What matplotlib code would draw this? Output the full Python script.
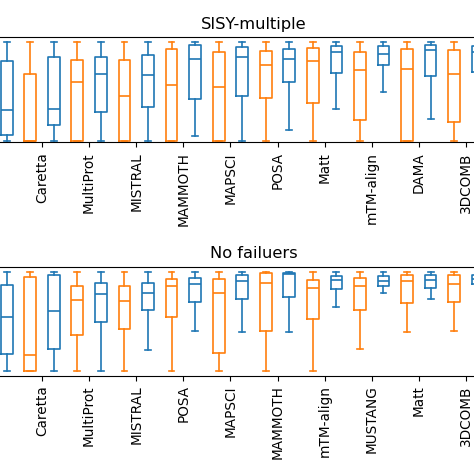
import matplotlib
matplotlib.use("Agg")
import matplotlib.pyplot as plt


# tick labels of each panel (positions 1..10, position 0 is cut off at the left edge)
top_methods = ["Caretta", "MultiProt", "MISTRAL", "MAMMOTH", "MAPSCI",
               "POSA", "Matt", "mTM-align", "DAMA", "3DCOMB"]
bottom_methods = ["Caretta", "MultiProt", "MISTRAL", "POSA", "MAPSCI",
                  "MAMMOTH", "mTM-align", "MUSTANG", "Matt", "3DCOMB"]

# box stats rows: [whisker low, q1, median, q3, whisker high]
# blue series: positions 0..10, orange series: positions 1..10
top_blue = [
  [0.00, 0.06, 0.31, 0.81, 1.00],
  [0.00, 0.16, 0.32, 0.85, 1.00],
  [0.00, 0.29, 0.68, 0.85, 1.00],
  [0.00, 0.35, 0.67, 0.87, 1.00],
  [0.05, 0.43, 0.83, 0.97, 1.00],
  [0.00, 0.46, 0.85, 0.95, 1.00],
  [0.11, 0.60, 0.83, 0.93, 1.00],
  [0.32, 0.69, 0.90, 0.96, 1.00],
  [0.50, 0.77, 0.88, 0.96, 1.00],
  [0.22, 0.66, 0.92, 0.97, 1.00],
  [0.40, 0.70, 0.90, 0.96, 1.00],
]
top_orange = [
  [0.00, 0.00, 0.00, 0.68, 1.00],
  [0.00, 0.00, 0.60, 0.82, 1.00],
  [0.00, 0.00, 0.46, 0.82, 1.00],
  [0.00, 0.00, 0.57, 0.93, 1.00],
  [0.00, 0.00, 0.55, 0.90, 1.00],
  [0.00, 0.44, 0.77, 0.91, 1.00],
  [0.00, 0.39, 0.81, 0.94, 1.00],
  [0.00, 0.21, 0.72, 0.90, 1.00],
  [0.00, 0.00, 0.73, 0.93, 1.00],
  [0.00, 0.19, 0.68, 0.92, 1.00],
]
bottom_blue = [
  [0.00, 0.17, 0.54, 0.87, 1.00],
  [0.00, 0.22, 0.60, 0.97, 1.00],
  [0.00, 0.49, 0.77, 0.89, 1.00],
  [0.21, 0.61, 0.78, 0.89, 1.00],
  [0.40, 0.69, 0.88, 0.94, 1.00],
  [0.39, 0.72, 0.91, 0.97, 1.00],
  [0.39, 0.74, 0.98, 0.99, 1.00],
  [0.64, 0.82, 0.92, 0.96, 1.00],
  [0.78, 0.85, 0.91, 0.96, 1.00],
  [0.72, 0.83, 0.92, 0.97, 1.00],
  [0.80, 0.88, 0.93, 0.97, 1.00],
]
bottom_orange = [
  [0.00, 0.00, 0.16, 0.95, 1.00],
  [0.00, 0.36, 0.71, 0.85, 1.00],
  [0.00, 0.42, 0.70, 0.85, 1.00],
  [0.00, 0.54, 0.85, 0.93, 1.00],
  [0.00, 0.18, 0.78, 0.93, 1.00],
  [0.00, 0.40, 0.89, 0.99, 1.00],
  [0.00, 0.52, 0.83, 0.92, 1.00],
  [0.22, 0.61, 0.85, 0.94, 1.00],
  [0.39, 0.68, 0.91, 0.97, 1.00],
  [0.40, 0.69, 0.88, 0.97, 1.00],
]

blue = "#1f77b4"
orange = "#ff7f0e"
offset = 0.25
box_w = 0.25


def to_stats(rows):
  return [{"whislo": r[0], "q1": r[1], "med": r[2], "q3": r[3], "whishi": r[4], "fliers": []}
          for r in rows]


def draw_series(ax, rows, positions, color):
  props = dict(color=color, linewidth=1.2)
  ax.bxp(to_stats(rows), positions=positions, widths=box_w, showfliers=False,
         boxprops=props, whiskerprops=props, capprops=props,
         medianprops=props, manage_ticks=False)


def plot_panel(ax, title, methods, blue_rows, orange_rows, ylim):
  draw_series(ax, orange_rows, [i + 1 - offset for i in range(len(orange_rows))], orange)
  draw_series(ax, blue_rows, [i + offset for i in range(len(blue_rows))], blue)
  ax.set_xticks(range(1, len(methods) + 1))
  ax.set_xticklabels(methods, rotation=90, fontsize=9.8)
  ax.set_xlim(-0.5, 11.5)
  ax.set_ylim(*ylim)
  ax.set_yticks([])
  ax.set_title(title, fontsize=11.7)


fig = plt.figure(figsize=(4.74, 4.74), dpi=100)
ax_top = fig.add_axes([-0.0604, 0.6994, 1.1924, 0.2215])
ax_bot = fig.add_axes([-0.0604, 0.2078, 1.1924, 0.2295])

plot_panel(ax_top, "SISY-multiple", top_methods, top_blue, top_orange, (-0.015, 1.05))
plot_panel(ax_bot, "No failuers", bottom_methods, bottom_blue, bottom_orange, (-0.05, 1.05))

fig.savefig("out.png", dpi=100)
